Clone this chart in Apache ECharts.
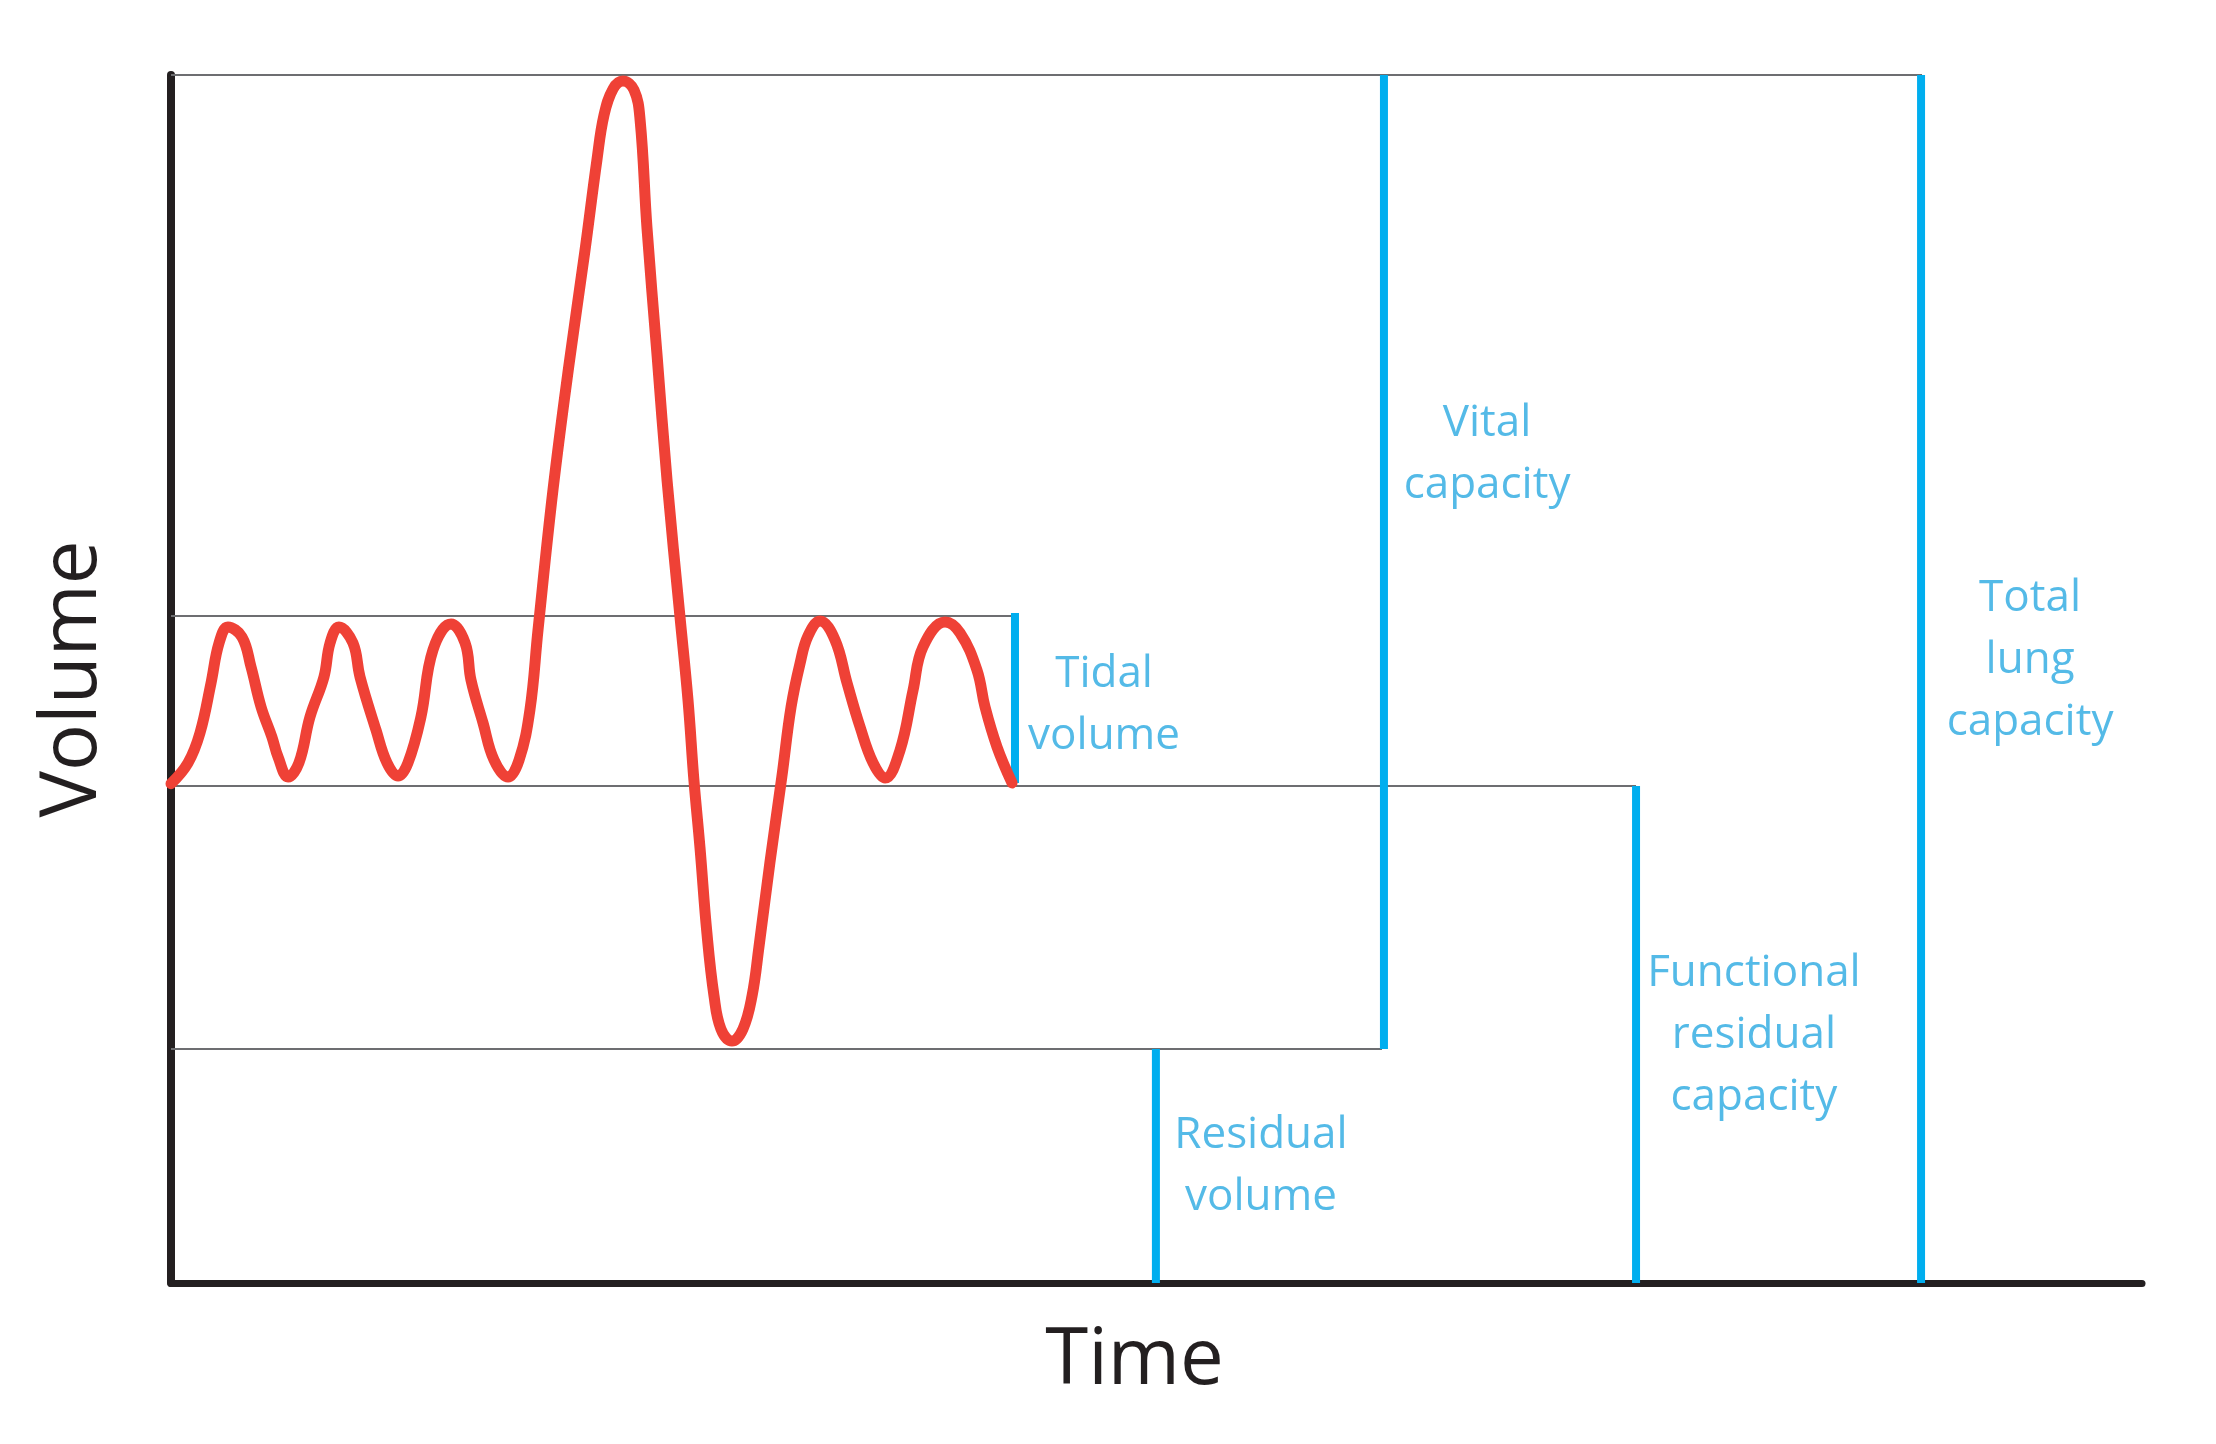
<!DOCTYPE html>
<html>
<head>
<meta charset="utf-8">
<script src="https://cdn.jsdelivr.net/npm/echarts@6/dist/echarts.min.js"></script>
<style>
  html, body { margin: 0; padding: 0; background: #ffffff; }
  #chart { width: 2216px; height: 1444px; }
</style>
</head>
<body>
<div id="chart"></div>
<script>
// ---- Data (time in arbitrary units 0-100, volume in mL) ----
const curveTime = [0,0.86,1.47,2.03,2.44,2.89,3.60,4.06,4.57,5.12,5.43,5.94,6.49,7.05,7.76,8.07,8.52,9.23,9.59,10.40,10.96,11.52,12.02,12.68,13.29,14.21,14.92,15.22,15.83,16.39,17.10,17.66,18.21,18.62,19.38,20.19,21.00,21.61,21.97,22.43,22.93,23.49,23.80,24.15,24.66,25.17,25.82,26.23,26.53,26.84,27.19,27.55,27.90,28.46,29.02,29.48,29.83,30.39,30.99,31.46,31.91,32.32,32.93,33.69,34.30,34.96,35.62,36.23,36.99,37.65,38.15,39.27,40.03,40.89,41.30,41.91,42.67];
const curveVolume = [2480,2583,2732,2980,3179,3258,3209,3060,2861,2712,2613,2513,2583,2811,3010,3179,3258,3179,3010,2747,2583,2518,2583,2811,3144,3273,3179,2995,2782,2598,2513,2598,2846,3243,3939,4560,5126,5578,5801,5931,5970,5926,5777,5240,4609,3984,3313,2896,2498,2161,1738,1426,1262,1202,1262,1426,1669,2091,2513,2861,3075,3214,3288,3194,2980,2762,2583,2508,2647,2945,3159,3283,3229,3045,2861,2662,2484];

// Horizontal reference levels: residual volume, FRC, end of tidal inspiration, total lung capacity
const levelVolume = [1162, 2469, 3313, 6000];
const levelEndTime = [61.44, 74.33, 42.82, 88.84];

// Vertical capacity bars: tidal, residual, vital, FRC, TLC
const barTime = [42.82, 49.97, 61.54, 74.33, 88.79];
const barFrom = [2484, 0, 1162, 0, 0];
const barTo = [3328, 1162, 6000, 2469, 6000];

// Labels
const labelText = ['Tidal\nvolume', 'Residual\nvolume', 'Vital\ncapacity', 'Functional\nresidual\ncapacity', 'Total\nlung\ncapacity'];
const labelTime = [47.34, 55.30, 66.77, 80.31, 94.32];
const labelVolume = [2871, 581, 4113, 1227, 3094];

const xAxisName = 'Time';
const yAxisName = 'Volume';

// ---- Build series ----
const series = [];

levelVolume.forEach((v, i) => {
  series.push({
    type: 'line', silent: true, symbol: 'none', z: 1,
    data: [[0, v], [levelEndTime[i], v]],
    lineStyle: { color: '#6d6e71', width: 2 }
  });
});

barTime.forEach((t, i) => {
  series.push({
    type: 'line', silent: true, symbol: 'none', z: 3,
    data: [[t, barFrom[i]], [t, barTo[i]]],
    lineStyle: { color: '#00aeef', width: 8, cap: 'butt' }
  });
});

series.push({
  type: 'line', silent: true, symbol: 'none', z: 4,
  smooth: 0.4,
  data: curveTime.map((t, i) => [t, curveVolume[i]]),
  lineStyle: { color: '#ef4136', width: 11, cap: 'round', join: 'round' }
});

series.push({
  type: 'scatter', silent: true, symbolSize: 0, z: 5,
  data: labelText.map((s, i) => ({ name: s, value: [labelTime[i], labelVolume[i]] })),
  label: {
    show: true, position: 'inside', formatter: p => p.name,
    fontFamily: 'Open Sans', fontSize: 44, lineHeight: 62,
    color: '#29a9e1', align: 'center', verticalAlign: 'middle'
  },
  labelLayout: { hideOverlap: false }
});

const chart = echarts.init(document.getElementById('chart'));
chart.setOption({
  backgroundColor: '#ffffff',
  animation: false,
  grid: { left: 171, right: 74, top: 75, bottom: 161, containLabel: false },
  xAxis: {
    type: 'value', min: 0, max: 100,
    name: xAxisName, nameLocation: 'middle', nameGap: 40,
    nameTextStyle: { fontFamily: 'Open Sans', fontSize: 78, color: '#231f20', padding: [0, 44, 0, 0] },
    axisLine: { show: true, onZero: false, lineStyle: { color: '#231f20', width: 7 } },
    axisTick: { show: false }, axisLabel: { show: false }, splitLine: { show: false }
  },
  yAxis: {
    type: 'value', min: 0, max: 6000,
    name: yAxisName, nameLocation: 'middle', nameGap: 58,
    nameTextStyle: { fontFamily: 'Open Sans', fontSize: 78, color: '#231f20' },
    axisLine: { show: true, onZero: false, lineStyle: { color: '#231f20', width: 8 } },
    axisTick: { show: false }, axisLabel: { show: false }, splitLine: { show: false }
  },
  series: series
});
</script>
</body>
</html>
